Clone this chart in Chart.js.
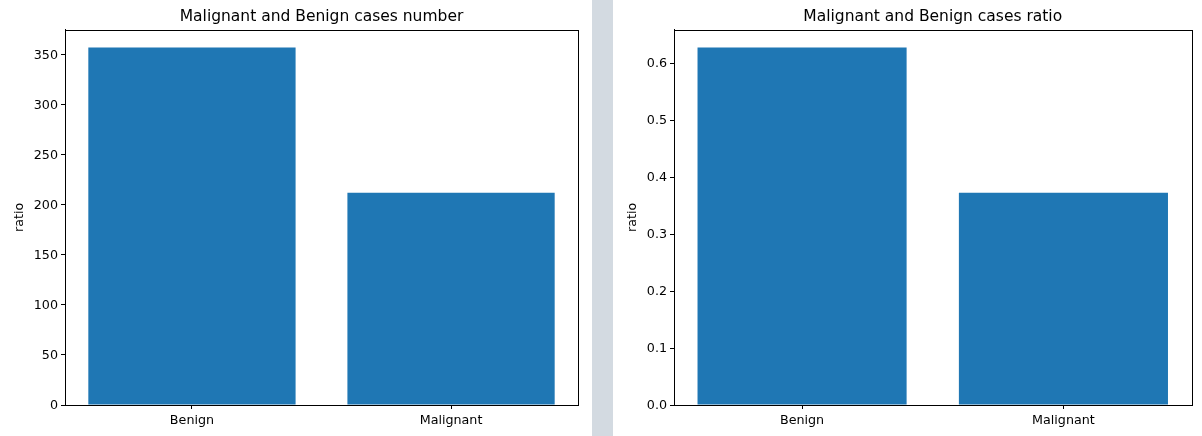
<!DOCTYPE html>
<html>
<head>
<meta charset="utf-8">
<script src="https://cdn.jsdelivr.net/npm/chart.js@4.4.0/dist/chart.umd.min.js"></script>
<style>
  html, body { margin: 0; padding: 0; background: #ffffff; }
  #wrap { display: flex; width: 1202px; height: 436px; }
  #divider { width: 21px; height: 436px; background: #d3dae1; }
  canvas { display: block; }
</style>
</head>
<body>
<div id="wrap">
  <canvas id="left" width="592" height="436"></canvas>
  <div id="divider"></div>
  <canvas id="right" width="589" height="436"></canvas>
</div>
<script>
const categories = ['Benign', 'Malignant'];
const counts = [357, 212];
const ratios = [0.6274, 0.3726];
const countTitle = 'Malignant and Benign cases number';
const ratioTitle = 'Malignant and Benign cases ratio';
const yLabel = 'ratio';
const countMax = 374.85;
const countStep = 50;
const ratioMax = 0.6588;
const ratioStep = 0.1;

const FONT = "'DejaVu Sans', sans-serif";
const BAR = '#1f77b4';

const frame = {
  id: 'frame',
  afterDatasetsDraw(chart) {
    const a = chart.chartArea, ctx = chart.ctx;
    ctx.save();
    ctx.strokeStyle = '#000';
    ctx.lineWidth = 1;
    ctx.strokeRect(Math.round(a.left) + 0.5, Math.round(a.top) + 0.5,
                   Math.round(a.right - a.left), Math.round(a.bottom - a.top));
    ctx.restore();
  }
};

function makeChart(id, values, title, max, step, yWidth, padRight, decimals) {
  return new Chart(document.getElementById(id), {
    type: 'bar',
    data: {
      datasets: [{
        data: categories.map((c, i) => ({ x: i, y: values[i] })),
        backgroundColor: BAR, borderWidth: 0, inflateAmount: 0,
        barPercentage: 0.8, categoryPercentage: 1.0
      }]
    },
    options: {
      responsive: false,
      animation: false,
      devicePixelRatio: 1,
      layout: { padding: { left: 0, right: padRight, top: 0, bottom: 0 } },
      plugins: {
        legend: { display: false },
        tooltip: { enabled: false },
        title: {
          display: true, text: title, fullSize: false, color: '#000',
          font: { family: FONT, size: 15.5, weight: 'normal' },
          padding: { top: 7.5, bottom: 3.5 }
        }
      },
      scales: {
        x: {
          type: 'linear',
          min: -0.49, max: categories.length - 1 + 0.49,
          offset: false,
          grid: { display: true, drawOnChartArea: false, offset: false, tickLength: 4, color: '#000' },
          border: { display: true, color: '#000' },
          ticks: {
            stepSize: 1, color: '#000', font: { family: FONT, size: 12.7 }, padding: 4,
            callback: v => categories[Math.round(v)]
          },
          afterBuildTicks(s) {
            s.ticks = categories.map((c, i) => ({ value: i }));
          },
          afterFit(s) { s.height = 31; }
        },
        y: {
          min: 0, max: max,
          grid: { display: true, drawOnChartArea: false, offset: false, tickLength: 4, color: '#000' },
          border: { display: true, color: '#000' },
          ticks: {
            stepSize: step, color: '#000', font: { family: FONT, size: 12.7 }, padding: 3,
            labelOffset: 1,
            callback: v => v.toFixed(decimals)
          },
          afterBuildTicks(s) {
            s.ticks = s.ticks.filter(t => Math.abs(t.value / step - Math.round(t.value / step)) < 1e-6);
          },
          title: {
            display: true, text: yLabel, color: '#000',
            font: { family: FONT, size: 12.7 }, padding: { top: 12, bottom: 0 }
          },
          afterFit(s) { s.width = yWidth; }
        }
      }
    },
    plugins: [frame]
  });
}

makeChart('left', counts, countTitle, countMax, countStep, 65, 14, 0);
makeChart('right', ratios, ratioTitle, ratioMax, ratioStep, 61, 10.5, 1);
</script>
</body>
</html>
